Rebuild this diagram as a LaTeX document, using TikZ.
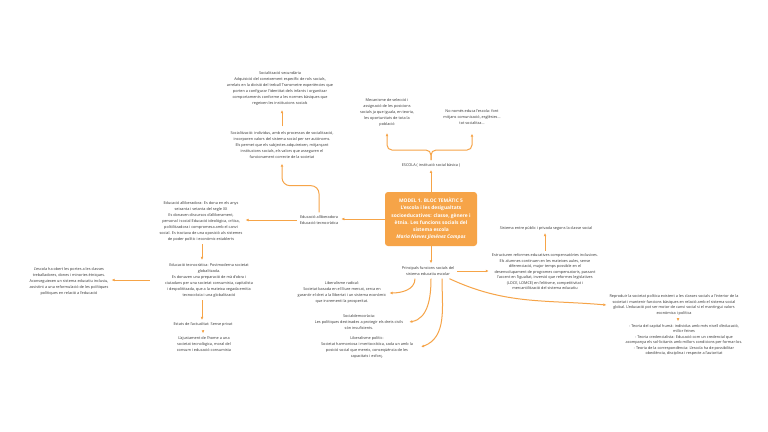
\documentclass[tikz,border=0pt]{standalone}
\usepackage{fontspec}
\setmainfont{Open Sans}
\usetikzlibrary{arrows.meta}
\definecolor{mmorange}{RGB}{246,164,72}
\definecolor{mmtext}{RGB}{51,51,51}
\tikzset{
  txt/.style={align=center, text=mmtext, inner xsep=3pt, inner ysep=3pt,
    font=\fontsize{3.8}{6}\selectfont},
  txtr/.style={txt, font=\fontsize{3.8}{5.5}\selectfont},
  mainbox/.style={align=center, fill=mmorange, text=white, rounded corners=3pt,
    minimum width=92pt, minimum height=54pt, inner sep=2pt,
    font=\bfseries\fontsize{4.9}{7.3}\selectfont},
  conn/.style={draw=mmorange, line width=1pt, -{Latex[length=3pt,width=2.8pt]}},
}
\begin{document}
\begin{tikzpicture}[x=1pt,y=-1pt]
\useasboundingbox[fill=white] (0,0) rectangle (768,431);

\node[mainbox] (central) at (431,219) {MODEL 1. BLOC TEMÀTIC 5\\ L'escola i les desigualtats\\ socioeducatives: classe, gènere i\\ ètnia. Les funcions socials del\\ sistema escola\\ \textit{Maria Nieves Jiménez Campos}};

\node[txt] (escola) at (431,165) {ESCOLA ( institució social bàsica )};
\node[txt, inner ysep=7pt] (mec) at (387,112) {Mecanisme de selecció i\\ assignació de les posicions\\ socials ja que iguala, en teoria,\\ les oportunitats de tota la\\ població};
\node[txt, inner ysep=9pt] (nom) at (472,117) {No només educa l'escola: font\\ mitjans comunicació, esglésies...\\ tot socialitza...};

\node[txt] (edu) at (319,220) {Educació alliberadora\\ Educació tecnocràtica};
\node[txt, inner ysep=5pt] (soc) at (282,145) {Socialització: individus, amb els processos de socialització,\\ incorporen valors del sistema social per ser autònoms.\\ Els permet que els subjectes adquireixen, mitjançant\\ institucions socials, els valors que asseguren el\\ funcionament correcte de la societat};
\node[txt, inner ysep=5pt] (socsec) at (280,88) {Socialització secundària\\ Adquisició del coneixement específic de rols socials,\\ arrelats en la divisió del treball Transmetre experiències que\\ porten a configurar l'identitat dels infants i organitzar\\ comportaments conforme a les normes bàsiques que\\ regeixen les institucions socials};

\node[txt] (edualli) at (201,221) {Educació alliberadora: Es dona en els anys\\ seixanta i setanta del segle XX\\ Es donaven discursos d'alliberament,\\ personal i social Educació ideològica, crítica,\\ politilitzadora i compromesa amb el canvi\\ social. Es tractava de una oposició als sistemes\\ de poder polític i econòmic establerts};
\node[txt, minimum width=118pt] (edutec) at (209,280) {Educació tecnocràtica: Postmoderna societat\\ globalitzada.\\ Es donaven una preparació de mà d'obra i\\ ciutadans per una societat consumista, capitalista\\ i despolititzada, que a la mateixa vegada emitia\\ tecnocràcia i una globalització};
\node[txt] (escolab) at (69,282) {L'escola ha obert les portes a les classes\\ treballadores, dones i minories ètniques.\\ Aconseguiexen un sistema educatiu inclusiu,\\ assistint a una reformulació de les polítiques\\ polítiques en relació a l'educació};
\node[txt] (estats) at (203,325) {Estats de l'actualitat: Sense privat};
\node[txt] (ajust) at (204,344) {L'ajustament de l'home a una\\ societat tecnològica, moral del\\ consum i educació consumista};

\node[txt] (princ) at (428,271) {Principals funcions socials del\\ sistema educatiu escolar};
\node[txt] (librad) at (342,293) {Liberalisme radical:\\ Societat basada en el lliure mercat, cerca en\\ garantir el dret a la llibertat i un sistema econòmic\\ que incrementi la prosperitat.};
\node[txt, inner xsep=6pt] (socdem) at (359,322) {Socialdemocràcia:\\ Les polítiques destinades a protegir els drets civils\\ són insuficients.};
\node[txt, inner xsep=8pt] (libpol) at (367,347) {Liberalisme polític:\\ Societat harmoniosa i meritocràtica, cada un amb la\\ posició social que mereix, conseqüència de les\\ capacitats i esforç.};

\node[txtr] (sist) at (546,228) {Sistema entre públic i privada segons la classe social};
\node[txtr] (estr) at (545,272) {Estructuren reformes educatives compensatòries inclusives.\\ Els alumnes continuen en les mateixes aules, sense\\ diferenciació, major temps possible en el\\ desenvolupament de programes compensatoris, passant\\ l'accent en l'igualtat, inversió que reformes legislatives\\ (LOCE, LOMCE) en l'elitisme, competitivitat i\\ mercantilització del sistema educatiu};
\node[txtr] (rep) at (674,305) {Reproduir la societat política existent a les classes socials a l'interior de la\\ societat i mantenir funcions bàsiques en relació amb el sistema social\\ global. L'educació pot ser motor de canvi social si el mantingui valors\\ econòmica i política};
\node[txtr] (teo) at (684,340) {- Teoria del capital humà: individus amb més nivell d'educació,\\ millor feines\\ - Teoria credencialista: Educació com un credencial que\\ acompanya els sol·licitants amb millors condicions per formar-los.\\ - Teoria de la correspondència: L'escola ha de possibilitar\\ obediència, disciplina i respecte a l'autoritat};

% connectors
\draw[conn] (central.north) -- (escola.south);
\draw[conn, rounded corners=5pt] (escola.north) -- ++(0pt,10pt) -| (mec.south);
\draw[conn, rounded corners=5pt] (escola.north) -- ++(0pt,10pt) -| (nom.south);
\draw[conn] (central.west) -- (central.west -| edu.east);
\draw[conn, rounded corners=8pt] (edu.north) |- ([yshift=-22pt]soc.south) -- (soc.south);
\draw[conn] (soc.north) -- (soc.north |- socsec.south);
\draw[conn] (edu.west) -- (edu.west -| edualli.east);
\draw[conn] ([xshift=1pt]edualli.south) -- ([xshift=1pt]edualli.south |- edutec.north);
\draw[conn] (edutec.west) -- (edutec.west -| escolab.east);
\draw[conn] ([xshift=-7pt]edutec.south) -- ([xshift=-7pt]edutec.south |- estats.north);
\draw[conn] (estats.south) -- (estats.south |- ajust.north);
\draw[conn] (central.south) -- (central.south |- princ.north);
\draw[conn] ([xshift=-13pt]princ.south) to[out=-90,in=0] (librad.east);
\draw[conn] ([xshift=3pt]princ.south) to[out=-90,in=10] (socdem.east);
\draw[conn] ([xshift=14pt]princ.south) to[out=-90,in=20] (libpol.east);
\draw[conn] (princ.east) -- (princ.east -| estr.west);
\draw[conn] (estr.north) -- (estr.north |- sist.south);
\draw[conn] ([xshift=-8pt]princ.south east) to[out=-25,in=175] (rep.west);
\draw[conn] ([xshift=4pt]rep.south) -- ([xshift=4pt]rep.south |- teo.north);
\end{tikzpicture}
\end{document}
